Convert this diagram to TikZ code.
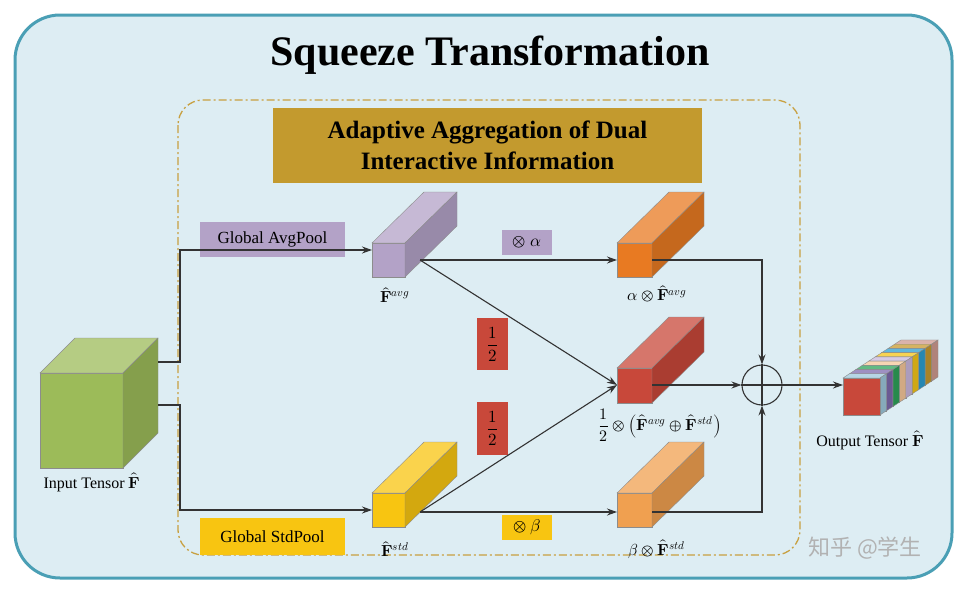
\documentclass[tikz,border=0pt]{standalone}
\usepackage{amsmath}
\usepackage{unicode-math}
\setmainfont{Liberation Serif}
\setmathfont{Latin Modern Math}
\newfontfamily\cjk{Noto Sans CJK SC}
\usetikzlibrary{arrows.meta,calc}
\definecolor{bgblue}{HTML}{DDEDF3}
\definecolor{teal}{HTML}{4A9FB5}
\definecolor{gold}{HTML}{C39A2E}
\definecolor{dashc}{HTML}{C8A040}
\definecolor{cgreen}{HTML}{9CBB59}
\definecolor{cpurple}{HTML}{B3A2C7}
\definecolor{corange}{HTML}{E87A22}
\definecolor{cred}{HTML}{C8483A}
\definecolor{cyellow}{HTML}{F8C511}
\definecolor{clorange}{HTML}{F0A050}
\tikzset{
 conn/.style={draw=black!80,line width=1.1pt},
 arr/.style={conn,-{Stealth[length=10pt,width=7pt]}},
 lab/.style={font=\fontsize{16}{18}\selectfont},
 tagbox/.style={minimum height=28pt,font=\fontsize{17}{19}\selectfont,inner sep=4pt},
}
\newcommand\cub[7]{%
 \fill[#7,draw=black!45] (#1,#2) rectangle ({#1+#3},{#2+#4});
 \fill[#7!75!white,draw=black!45] (#1,#2)--({#1+#5},{#2+#6})--({#1+#3+#5},{#2+#6})--({#1+#3},#2)--cycle;
 \fill[#7!85!black,draw=black!45] ({#1+#3},#2)--({#1+#3+#5},{#2+#6})--({#1+#3+#5},{#2+#4+#6})--({#1+#3},{#2+#4})--cycle;
}
\begin{document}
\begin{tikzpicture}[x=1pt,y=-1pt]
\useasboundingbox (0,0) rectangle (967,589);
\fill[white] (0,0) rectangle (967,589);
\draw[teal,line width=3pt,fill=bgblue,rounded corners=45pt] (15,15) rectangle (952,578);
\node[font=\bfseries\fontsize{42}{46}\selectfont] (title) at (490,55) {Squeeze Transformation};
\draw[dashc,line width=1.3pt,dash pattern=on 8pt off 3pt on 2pt off 3pt,rounded corners=25pt] (178,100) rectangle (800,555);
\node[fill=gold,minimum width=429pt,minimum height=75pt,align=center,font=\bfseries\fontsize{25}{31}\selectfont] (head) at (487.5,145.5) {Adaptive Aggregation of Dual\\Interactive Information};
% input cube
\cub{40}{373}{83}{95}{35}{-35}{cgreen}
\coordinate (inT) at (158,362); \coordinate (inB) at (158,405);
\node[lab] (inlab) at (92,482) {Input Tensor $\hat{\symbf F}$};
% cuboids
\cub{372}{243}{33}{34}{52}{-51}{cpurple}
\cub{617}{243}{35}{34}{52}{-51}{corange}
\cub{617}{368}{35}{35}{52}{-51}{cred}
\cub{372}{493}{33}{34}{52}{-51}{cyellow}
\cub{617}{493}{35}{34}{52}{-51}{clorange}
\coordinate (pIn) at (372,250); \coordinate (yIn) at (372,510);
\coordinate (pOut) at (420,260); \coordinate (yOut) at (420,512);
\coordinate (oIn) at (617,260); \coordinate (rIn) at (617,385); \coordinate (lIn) at (617,512);
\coordinate (oOut) at (652,260); \coordinate (rOut) at (652,385); \coordinate (lOut) at (652,512);
% labels
\node[lab] (lp) at (395,295) {$\hat{\symbf F}^{avg}$};
\node[lab] (lo) at (657,294) {$\alpha\otimes\hat{\symbf F}^{avg}$};
\node[lab] (lr) at (660,425) {$\dfrac{1}{2}\otimes\left(\hat{\symbf F}^{avg}\oplus\hat{\symbf F}^{std}\right)$};
\node[lab] (ly) at (395,549) {$\hat{\symbf F}^{std}$};
\node[lab] (ll) at (657,549) {$\beta\otimes\hat{\symbf F}^{std}$};
% tags
\node[tagbox,fill=cpurple,minimum width=145pt,minimum height=35pt] (gap) at (272.5,239.5) {Global AvgPool};
\node[tagbox,fill=cyellow,minimum width=145pt,minimum height=37pt] (gsp) at (272.5,536.5) {Global StdPool};
\node[tagbox,fill=cpurple,minimum width=50pt,minimum height=25pt] (ta) at (527,242.5) {$\otimes\ \alpha$};
\node[tagbox,fill=cyellow,minimum width=50pt,minimum height=25pt] (tb) at (527,527.5) {$\otimes\ \beta$};
\node[fill=cred,minimum width=31pt,minimum height=52pt,inner sep=0pt,font=\fontsize{17}{20}\selectfont] (h1) at (492.5,344) {$\dfrac{1}{2}$};
\node[fill=cred,minimum width=31pt,minimum height=53pt,inner sep=0pt,font=\fontsize{17}{20}\selectfont] (h2) at (492.5,428.5) {$\dfrac{1}{2}$};
% connectors
\draw[arr] (inT) -- (180,362) -- (180,250) -- (pIn);
\draw[arr] (inB) -- (180,405) -- (180,510) -- (yIn);
\draw[arr] (pOut) -- (oIn);
\draw[arr] (pOut) -- (rIn);
\draw[arr] (yOut) -- (rIn);
\draw[arr] (yOut) -- (lIn);
\node[circle,draw=black!80,line width=1.1pt,minimum size=40pt,inner sep=0pt] (sum) at (762,385) {};
\draw[black!80,line width=1.1pt] (sum.north)--(sum.south) (sum.west)--(sum.east);
\draw[arr] (oOut) -| (sum.north);
\draw[arr] (lOut) -| (sum.south);
\draw[arr] (rOut) -- (sum.west);
% output tensor
\coordinate (outIn) at (843,385);
\draw[arr] (sum.east) -- (outIn);
\foreach \c [count=\i from 0] in {CF9A8F,C89A2E,2E9FD0,F5C518,C9B8DD,F6C79A,2EA35A,7E6BAD,9EC8DC}{
  \definecolor{sl}{HTML}{\c}
  \pgfmathsetmacro\ox{843+(8-\i)*58/9}
  \pgfmathsetmacro\oy{378-(8-\i)*38/9}
  \cub{\ox}{\oy}{37}{37}{6.45}{-4.23}{sl}
}
\fill[cred,draw=black!45] (843,378) rectangle (880,415);
\node[lab] (outlab) at (870,440) {Output Tensor $\hat{\symbf F}$};
\node[font=\cjk\fontsize{22}{24}\selectfont,text=black!30] (wm) at (865,548) {知乎 @学生};
\end{tikzpicture}
\end{document}
